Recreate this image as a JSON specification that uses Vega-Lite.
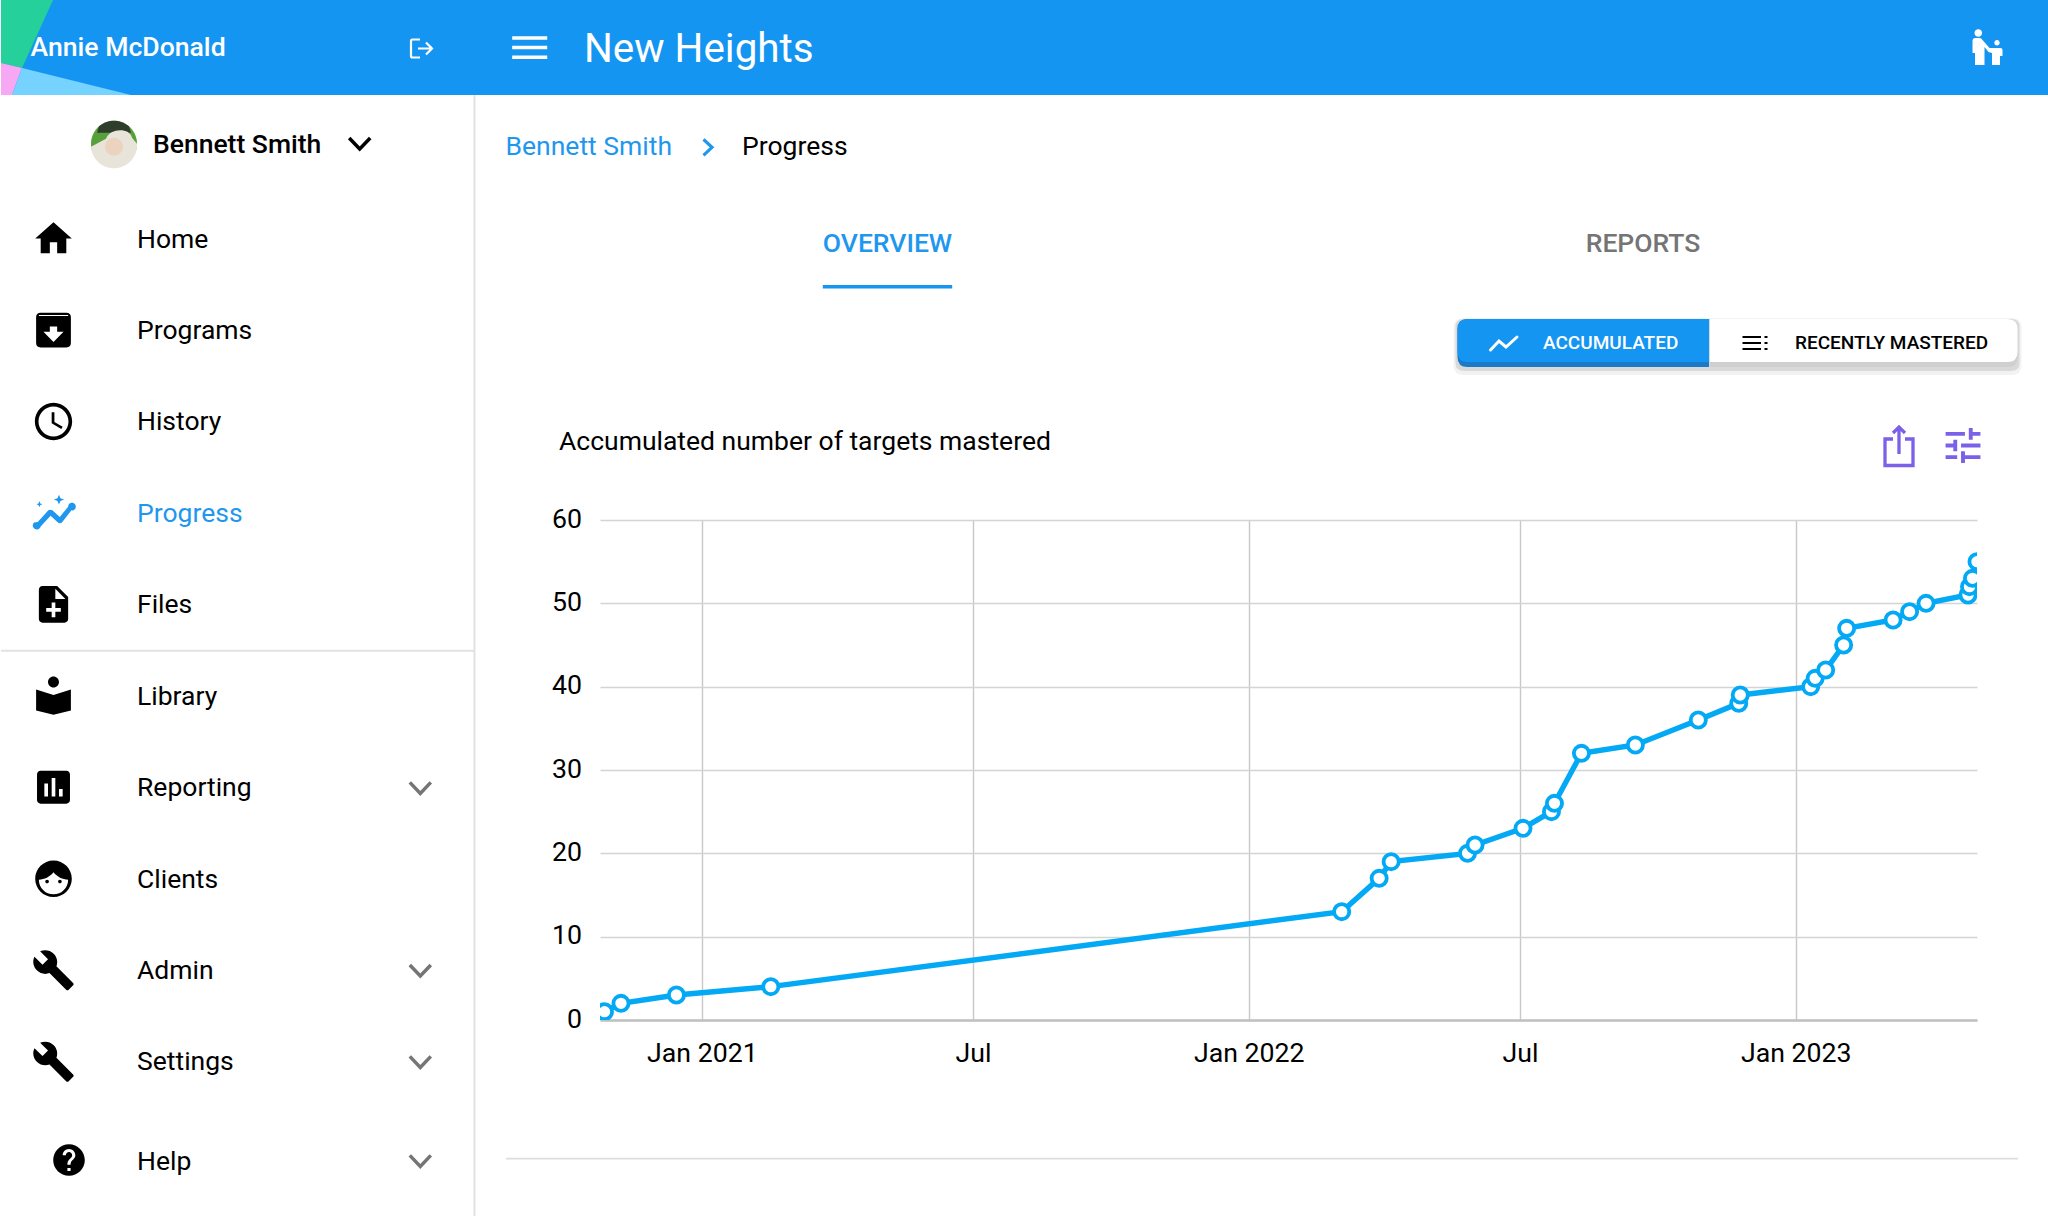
{
  "$schema": "https://vega.github.io/schema/vega-lite/v6.json",
  "padding": 0,
  "background": "#ffffff",
  "bounds": "flush",
  "spacing": 0,
  "config": {
    "font": "Roboto",
    "view": {"stroke": null},
    "text": {"font": "Roboto", "baseline": "alphabetic", "align": "left", "fontSize": 26.5, "color": "#000000"}
  },
  "datasets": {
    "menu": [
      {"label": "Home"}, {"label": "Programs"}, {"label": "History"}, {"label": "Progress"}, {"label": "Files"},
      {"label": "Library"}, {"label": "Reporting"}, {"label": "Clients"}, {"label": "Admin"}, {"label": "Settings"}
    ],
    "mastered": [
      {"date": "2020-10-28T00:00:00Z", "targets": 1},
      {"date": "2020-11-08T00:00:00Z", "targets": 2},
      {"date": "2020-12-15T00:00:00Z", "targets": 3},
      {"date": "2021-02-16T00:00:00Z", "targets": 4},
      {"date": "2022-03-04T00:00:00Z", "targets": 13},
      {"date": "2022-03-29T00:00:00Z", "targets": 17},
      {"date": "2022-04-06T00:00:00Z", "targets": 19},
      {"date": "2022-05-27T00:00:00Z", "targets": 20},
      {"date": "2022-06-01T00:00:00Z", "targets": 21},
      {"date": "2022-07-03T00:00:00Z", "targets": 23},
      {"date": "2022-07-22T00:00:00Z", "targets": 25},
      {"date": "2022-07-24T00:00:00Z", "targets": 26},
      {"date": "2022-08-11T00:00:00Z", "targets": 32},
      {"date": "2022-09-16T00:00:00Z", "targets": 33},
      {"date": "2022-10-28T00:00:00Z", "targets": 36},
      {"date": "2022-11-24T00:00:00Z", "targets": 38},
      {"date": "2022-11-25T00:00:00Z", "targets": 39},
      {"date": "2023-01-11T00:00:00Z", "targets": 40},
      {"date": "2023-01-14T00:00:00Z", "targets": 41},
      {"date": "2023-01-21T00:00:00Z", "targets": 42},
      {"date": "2023-02-02T00:00:00Z", "targets": 45},
      {"date": "2023-02-04T00:00:00Z", "targets": 47},
      {"date": "2023-03-07T00:00:00Z", "targets": 48},
      {"date": "2023-03-18T00:00:00Z", "targets": 49},
      {"date": "2023-03-29T00:00:00Z", "targets": 50},
      {"date": "2023-04-26T00:00:00Z", "targets": 51},
      {"date": "2023-04-27T00:00:00Z", "targets": 52},
      {"date": "2023-04-29T00:00:00Z", "targets": 53},
      {"date": "2023-05-02T00:00:00Z", "targets": 55}
    ]
  },
  "vconcat": [
    {
      "width": 2048,
      "height": 95,
      "view": {"fill": "#1595f2", "stroke": null},
      "resolve": {"scale": {"x": "independent", "y": "independent"}},
      "data": {"values": [{"part": "header"}]},
      "layer": [
        {"mark": {"type": "point", "filled": true, "opacity": 1, "size": 4, "color": "#25d09a", "shape": "M0 0H52L21 68L0 63Z"},
         "encoding": {"x": {"datum": "corner", "type": "nominal", "scale": {"type": "point", "padding": 0, "range": [0, 0]}, "axis": null}, "y": {"datum": "corner", "type": "nominal", "scale": {"type": "point", "padding": 0, "range": [0, 0]}, "axis": null}}},
        {"mark": {"type": "point", "filled": true, "opacity": 1, "size": 4, "color": "#f7a8f5", "shape": "M0 63L21 68L11 95H0Z"},
         "encoding": {"x": {"datum": "corner", "type": "nominal", "scale": {"type": "point", "padding": 0, "range": [0, 0]}, "axis": null}, "y": {"datum": "corner", "type": "nominal", "scale": {"type": "point", "padding": 0, "range": [0, 0]}, "axis": null}}},
        {"mark": {"type": "point", "filled": true, "opacity": 1, "size": 4, "color": "#76d3ff", "shape": "M21 68L130 95H11Z"},
         "encoding": {"x": {"datum": "corner", "type": "nominal", "scale": {"type": "point", "padding": 0, "range": [0, 0]}, "axis": null}, "y": {"datum": "corner", "type": "nominal", "scale": {"type": "point", "padding": 0, "range": [0, 0]}, "axis": null}}},
        {"mark": {"type": "text", "color": "#ffffff", "fontWeight": 500, "fontSize": 26.6},
         "encoding": {"text": {"datum": "Annie McDonald"}, "x": {"datum": "user", "type": "nominal", "scale": {"type": "point", "padding": 0, "range": [29.5, 29.5]}, "axis": null}, "y": {"datum": "user", "type": "nominal", "scale": {"type": "point", "padding": 0, "range": [56, 56]}, "axis": null}}},
        {"mark": {"type": "point", "filled": false, "opacity": 1, "size": 4, "stroke": "#ffffff", "strokeWidth": 2.2, "shape": "M-2 -9H-9.5Q-11 -9 -11 -7.5V7.5Q-11 9 -9.5 9H-2M-4 0H9M4 -6L10 0L4 6"},
         "encoding": {"x": {"datum": "logout", "type": "nominal", "scale": {"type": "point", "padding": 0, "range": [421, 421]}, "axis": null}, "y": {"datum": "logout", "type": "nominal", "scale": {"type": "point", "padding": 0, "range": [48.5, 48.5]}, "axis": null}}},
        {"mark": {"type": "point", "filled": true, "opacity": 1, "size": 4, "color": "#ffffff", "shape": "M-17.5 -11.2H17.5V-7.7H-17.5ZM-17.5 -1.8H17.5V1.7H-17.5ZM-17.5 8H17.5V11.5H-17.5Z"},
         "encoding": {"x": {"datum": "menu", "type": "nominal", "scale": {"type": "point", "padding": 0, "range": [528.7, 528.7]}, "axis": null}, "y": {"datum": "menu", "type": "nominal", "scale": {"type": "point", "padding": 0, "range": [47.5, 47.5]}, "axis": null}}},
        {"mark": {"type": "text", "color": "#ffffff", "fontSize": 40.4},
         "encoding": {"text": {"datum": "New Heights"}, "x": {"datum": "app", "type": "nominal", "scale": {"type": "point", "padding": 0, "range": [583, 583]}, "axis": null}, "y": {"datum": "app", "type": "nominal", "scale": {"type": "point", "padding": 0, "range": [61.7, 61.7]}, "axis": null}}},
        {"mark": {"type": "point", "filled": true, "opacity": 1, "size": 4, "color": "#ffffff", "shape": "M-15 -6Q-15 -9 -12 -9H-8Q-6 -9 -5 -7L2 1H13Q15 1 15 3V9H12.5V18H4.5V6L1 5L-3 0V18H-12.5V6H-15ZM-13 -14A3.8 3.8 0 1 1 -5.4 -14A3.8 3.8 0 1 1 -13 -14ZM6.8 -4.3A2.7 2.7 0 1 1 12.2 -4.3A2.7 2.7 0 1 1 6.8 -4.3Z"},
         "encoding": {"x": {"datum": "family", "type": "nominal", "scale": {"type": "point", "padding": 0, "range": [1986.5, 1986.5]}, "axis": null}, "y": {"datum": "family", "type": "nominal", "scale": {"type": "point", "padding": 0, "range": [47, 47]}, "axis": null}}}
      ]
    },
    {
      "bounds": "flush",
      "spacing": 0,
      "hconcat": [
        {
          "width": 474,
          "height": 1121,
          "resolve": {"scale": {"x": "independent", "y": "independent"}},
          "layer": [
            {"data": {"values": [{"part": "border"}]}, "mark": {"type": "rule", "color": "#e2e2e2", "strokeWidth": 2},
             "encoding": {"x": {"datum": "border", "type": "nominal", "scale": {"type": "point", "padding": 0, "range": [473.5, 473.5]}, "axis": null}}},
            {"data": {"values": [{"part": "divider"}]}, "mark": {"type": "rule", "color": "#e2e2e2", "strokeWidth": 2},
             "encoding": {"y": {"datum": "divider", "type": "nominal", "scale": {"type": "point", "padding": 0, "range": [555.7, 555.7]}, "axis": null}}},
            {"data": {"values": [{"part": "avatar"}]},
             "encoding": {"x": {"datum": "avatar", "type": "nominal", "scale": {"type": "point", "padding": 0, "range": [113, 113]}, "axis": null}, "y": {"datum": "avatar", "type": "nominal", "scale": {"type": "point", "padding": 0, "range": [48.7, 48.7]}, "axis": null}},
             "layer": [
               {"mark": {"type": "point", "filled": true, "opacity": 1, "size": 4, "color": "#58a03c", "shape": "M-23 0A23 23 0 1 1 23 0A23 23 0 1 1 -23 0Z"}},
               {"mark": {"type": "point", "filled": true, "opacity": 1, "size": 4, "color": "#2f3d2c", "shape": "M-15 -17.5A23 23 0 0 1 15 -17.5L17 -11L-17 -11Z"}},
               {"mark": {"type": "point", "filled": true, "opacity": 1, "size": 4, "color": "#e9e4da", "shape": "M-23 3L-8 -5C-4 -16 16 -16 18 -6L23 0A23 23 0 0 1 -23 3Z"}},
               {"mark": {"type": "point", "filled": true, "opacity": 1, "size": 4, "color": "#ecd3c0", "shape": "M-9 3A9 9 0 1 1 9 3A9 9 0 1 1 -9 3Z"}}
             ]},
            {"mark": {"type": "text", "fontWeight": 500},
             "data": {"values": [{"label": "Bennett Smith"}]},
             "encoding": {"text": {"field": "label"}, "x": {"field": "label", "type": "nominal", "scale": {"type": "point", "padding": 0, "range": [152, 152]}, "axis": null}, "y": {"field": "label", "type": "nominal", "scale": {"type": "point", "padding": 0, "range": [57.7, 57.7]}, "axis": null}}},
            {"data": {"values": [{"part": "client menu"}]}, "mark": {"type": "point", "filled": false, "opacity": 1, "size": 4, "stroke": "#000000", "strokeWidth": 3.5, "shape": "M-10.5 -6L0 5L10.5 -6"},
             "encoding": {"x": {"datum": "toggle", "type": "nominal", "scale": {"type": "point", "padding": 0, "range": [358.7, 358.7]}, "axis": null}, "y": {"datum": "toggle", "type": "nominal", "scale": {"type": "point", "padding": 0, "range": [49, 49]}, "axis": null}}},
            {"data": {"name": "menu"}, "mark": {"type": "text"},
             "encoding": {
               "text": {"field": "label"},
               "color": {"condition": {"test": "datum.label === 'Progress'", "value": "#1f97ee"}, "value": "#000000"},
               "x": {"datum": "labels", "type": "nominal", "scale": {"type": "point", "padding": 0, "range": [136, 136]}, "axis": null},
               "y": {"field": "label", "type": "nominal", "sort": null, "scale": {"type": "point", "padding": 0, "range": [152.6, 975.4]}, "axis": null}}},
            {"data": {"name": "menu"}, "mark": {"type": "point", "filled": true, "opacity": 1, "size": 13.4},
             "encoding": {
               "color": {"condition": {"test": "datum.label === 'Progress'", "value": "#1f97ee"}, "value": "#000000"},
               "shape": {"field": "label", "type": "nominal", "legend": null, "sort": null, "scale": {
                 "domain": ["Home", "Programs", "History", "Progress", "Files", "Library", "Reporting", "Clients", "Admin", "Settings"],
                 "range": [
                   "M-2 8V2H2V8H7V0H10L0 -9L-10 0H-7V8Z",
                   "M-9.5 -7Q-9.5 -9.5 -7 -9.5H7Q9.5 -9.5 9.5 -7V7Q9.5 9.5 7 9.5H-7Q-9.5 9.5 -9.5 7ZM-5.5 1L0 6.5L5.5 1H2V-2H-2V1ZM-8 -8.2V-7.7H8V-8.2Z",
                   "M0 -10.2C-5.6 -10.2 -10.2 -5.6 -10.2 0C-10.2 5.6 -5.6 10.2 0 10.2C5.6 10.2 10.2 5.6 10.2 0C10.2 -5.6 5.6 -10.2 0 -10.2ZM0 8.2C-4.5 8.2 -8.2 4.5 -8.2 0C-8.2 -4.5 -4.5 -8.2 0 -8.2C4.5 -8.2 8.2 -4.5 8.2 0C8.2 4.5 4.5 8.2 0 8.2ZM0.5 -5H-1V1L4.25 4.15L5 2.92L0.5 0.25Z",
                   "M-10.6 5.2L-8.6 4.9L-2.8 -1.4A1.9 1.9 0 0 1 -0.6 -1.4L3.4 2.2L8 -3.4A2.1 2.1 0 1 1 9.8 -1.4L4.6 5.2A1.8 1.8 0 0 1 2.4 5.2L-1.6 1.6L-7 7.4A2.2 2.2 0 1 1 -10.6 5.2ZM3 -10L3.8 -8L5.8 -7.3L3.8 -6.5L3 -4.6L2.2 -6.5L0.2 -7.3L2.2 -8ZM-7.7 -6.5L-7.2 -5.2L-6 -4.8L-7.2 -4.3L-7.7 -3.1L-8.2 -4.3L-9.4 -4.8L-8.2 -5.2Z",
                   "M2 -10H-6C-7.1 -10 -7.99 -9.1 -7.99 -8L-8 8C-8 9.1 -7.11 10 -6.01 10H6C7.1 10 8 9.1 8 8V-4ZM4 4H1V7H-1V4H-4V2H-1V-1H1V2H4ZM1 -3V-8.5L6.5 -3Z",
                   "M-9.5 -3.5L0 -0.5L9.5 -3.5V8L0 10.4L-9.5 8ZM-3 -7.5A3 3 0 1 1 3 -7.5A3 3 0 1 1 -3 -7.5Z",
                   "M7 -9H-7C-8.1 -9 -9 -8.1 -9 -7V7C-9 8.1 -8.1 9 -7 9H7C8.1 9 9 8.1 9 7V-7C9 -8.1 8.1 -9 7 -9ZM-3 5H-5V-2H-3ZM1 5H-1V-5H1ZM5 5H3V1H5Z",
                   "M-10 0A10 10 0 1 1 10 0A10 10 0 1 1 -10 0ZM-8 0.5A8 8 0 0 0 8 0.5C5 0.5 2 -1 0 -3.5C-2 -1 -5 0.5 -8 0.5ZM-4.5 1.5A1 1 0 1 1 -2.5 1.5A1 1 0 1 1 -4.5 1.5ZM2.5 1.5A1 1 0 1 1 4.5 1.5A1 1 0 1 1 2.5 1.5Z",
                   "M10.7 7L1.6 -2.1C2.5 -4.4 2 -7.1 0.1 -9C-1.9 -11 -4.9 -11.4 -7.3 -10.3L-3 -6L-6 -3L-10.4 -7.3C-11.6 -4.9 -11.1 -1.9 -9.1 0.1C-7.2 2 -4.5 2.5 -2.2 1.6L6.9 10.7C7.3 11.1 7.9 11.1 8.3 10.7L10.6 8.4C11.1 8 11.1 7.3 10.7 7Z",
                   "M10.7 7L1.6 -2.1C2.5 -4.4 2 -7.1 0.1 -9C-1.9 -11 -4.9 -11.4 -7.3 -10.3L-3 -6L-6 -3L-10.4 -7.3C-11.6 -4.9 -11.1 -1.9 -9.1 0.1C-7.2 2 -4.5 2.5 -2.2 1.6L6.9 10.7C7.3 11.1 7.9 11.1 8.3 10.7L10.6 8.4C11.1 8 11.1 7.3 10.7 7Z"
                 ]}},
               "x": {"datum": "icons", "type": "nominal", "scale": {"type": "point", "padding": 0, "range": [52.5, 52.5]}, "axis": null},
               "y": {"field": "label", "type": "nominal", "sort": null, "scale": {"type": "point", "padding": 0, "range": [143.6, 966.6]}, "axis": null}}},
            {"data": {"values": [{"label": "Reporting"}, {"label": "Admin"}, {"label": "Settings"}]},
             "mark": {"type": "point", "filled": false, "opacity": 1, "size": 4, "stroke": "#757575", "strokeWidth": 3.5, "shape": "M-10.5 -6L0 5L10.5 -6"},
             "encoding": {
               "x": {"datum": "chevrons", "type": "nominal", "scale": {"type": "point", "padding": 0, "range": [419.3, 419.3]}, "axis": null},
               "y": {"field": "label", "type": "nominal", "scale": {"type": "point", "padding": 0, "domain": ["Home", "Programs", "History", "Progress", "Files", "Library", "Reporting", "Clients", "Admin", "Settings"], "range": [145.3, 967.4]}, "axis": null}}},
            {"data": {"values": [{"label": "Help"}]}, "mark": {"type": "text"},
             "encoding": {"text": {"field": "label"}, "x": {"field": "label", "type": "nominal", "scale": {"type": "point", "padding": 0, "range": [136, 136]}, "axis": null}, "y": {"field": "label", "type": "nominal", "scale": {"type": "point", "padding": 0, "range": [1074.6, 1074.6]}, "axis": null}}},
            {"data": {"values": [{"label": "Help"}]},
             "mark": {"type": "point", "filled": true, "opacity": 1, "size": 10, "color": "#000000", "shape": "M0 -10C-5.52 -10 -10 -5.52 -10 0C-10 5.52 -5.52 10 0 10C5.52 10 10 5.52 10 0C10 -5.52 5.52 -10 0 -10ZM1 7H-1V5H1ZM3.07 -0.75L2.17 0.17C1.45 0.9 1 1.5 1 3H-1V2.5C-1 1.4 -0.55 0.4 0.17 -0.33L1.41 -1.59C1.78 -1.95 2 -2.45 2 -3C2 -4.1 1.1 -5 0 -5C-1.1 -5 -2 -4.1 -2 -3H-4C-4 -5.21 -2.21 -7 0 -7C2.21 -7 4 -5.21 4 -3C4 -2.12 3.64 -1.32 3.07 -0.75Z"},
             "encoding": {"x": {"field": "label", "type": "nominal", "scale": {"type": "point", "padding": 0, "range": [68, 68]}, "axis": null}, "y": {"field": "label", "type": "nominal", "scale": {"type": "point", "padding": 0, "range": [1065, 1065]}, "axis": null}}},
            {"data": {"values": [{"label": "Help"}]},
             "mark": {"type": "point", "filled": false, "opacity": 1, "size": 4, "stroke": "#757575", "strokeWidth": 3.5, "shape": "M-10.5 -6L0 5L10.5 -6"},
             "encoding": {"x": {"field": "label", "type": "nominal", "scale": {"type": "point", "padding": 0, "range": [419.3, 419.3]}, "axis": null}, "y": {"field": "label", "type": "nominal", "scale": {"type": "point", "padding": 0, "range": [1066.4, 1066.4]}, "axis": null}}}
          ]
        },
        {
          "bounds": "flush",
          "spacing": 0,
          "vconcat": [
            {
              "width": 1574,
              "height": 424.5,
              "resolve": {"scale": {"x": "independent", "y": "independent"}},
              "data": {"values": [{"part": "top"}]},
              "layer": [
                {"mark": {"type": "text", "color": "#1f97ee"},
                 "encoding": {"text": {"datum": "Bennett Smith"}, "x": {"datum": "crumb", "type": "nominal", "scale": {"type": "point", "padding": 0, "range": [30.5, 30.5]}, "axis": null}, "y": {"datum": "crumb", "type": "nominal", "scale": {"type": "point", "padding": 0, "range": [60, 60]}, "axis": null}}},
                {"mark": {"type": "point", "filled": false, "opacity": 1, "size": 4, "stroke": "#1f97ee", "strokeWidth": 3.2, "shape": "M-4.5 -8L4 0L-4.5 8"},
                 "encoding": {"x": {"datum": "sep", "type": "nominal", "scale": {"type": "point", "padding": 0, "range": [233, 233]}, "axis": null}, "y": {"datum": "sep", "type": "nominal", "scale": {"type": "point", "padding": 0, "range": [52.3, 52.3]}, "axis": null}}},
                {"mark": {"type": "text"},
                 "encoding": {"text": {"datum": "Progress"}, "x": {"datum": "crumb", "type": "nominal", "scale": {"type": "point", "padding": 0, "range": [267, 267]}, "axis": null}, "y": {"datum": "crumb", "type": "nominal", "scale": {"type": "point", "padding": 0, "range": [60, 60]}, "axis": null}}},
                {"mark": {"type": "text", "align": "center", "fontWeight": 500, "color": "#1f97ee"},
                 "encoding": {"text": {"datum": "OVERVIEW"}, "x": {"datum": "tab", "type": "nominal", "scale": {"type": "point", "padding": 0, "range": [412.5, 412.5]}, "axis": null}, "y": {"datum": "tab", "type": "nominal", "scale": {"type": "point", "padding": 0, "range": [156.5, 156.5]}, "axis": null}}},
                {"mark": {"type": "text", "align": "center", "fontWeight": 500, "color": "#757575"},
                 "encoding": {"text": {"datum": "REPORTS"}, "x": {"datum": "tab", "type": "nominal", "scale": {"type": "point", "padding": 0, "range": [1168, 1168]}, "axis": null}, "y": {"datum": "tab", "type": "nominal", "scale": {"type": "point", "padding": 0, "range": [156.5, 156.5]}, "axis": null}}},
                {"mark": {"type": "point", "filled": true, "opacity": 1, "size": 4, "color": "#1595f2", "shape": "M-64.7 -1.8H64.7V1.8H-64.7Z"},
                 "encoding": {"x": {"datum": "tab", "type": "nominal", "scale": {"type": "point", "padding": 0, "range": [412.5, 412.5]}, "axis": null}, "y": {"datum": "tab", "type": "nominal", "scale": {"type": "point", "padding": 0, "range": [191.8, 191.8]}, "axis": null}}},
                {"encoding": {"x": {"datum": "switch", "type": "nominal", "scale": {"type": "point", "padding": 0, "range": [1263.5, 1263.5]}, "axis": null}, "y": {"datum": "switch", "type": "nominal", "scale": {"type": "point", "padding": 0, "range": [248, 248]}, "axis": null}},
                 "layer": [
                   {"mark": {"type": "point", "filled": true, "opacity": 0.05, "size": 4, "color": "#000000", "shape": "M-275 -25H273Q283 -25 283 -15V22Q283 32 273 32H-275Q-285 32 -285 22V-15Q-285 -25 -275 -25Z"}},
                   {"mark": {"type": "point", "filled": true, "opacity": 0.1, "size": 4, "color": "#000000", "shape": "M-275 -24H273Q281 -24 281 -16V20Q281 28 272 28H-274Q-283 28 -283 20V-16Q-283 -24 -275 -24Z"}},
                   {"mark": {"type": "point", "filled": true, "opacity": 1, "size": 4, "color": "#cfcfcf", "shape": "M-28.5 -24H269Q279 -24 279 -14V14Q279 24 269 24H-28.5Z"}},
                   {"mark": {"type": "point", "filled": true, "opacity": 1, "size": 4, "color": "#ffffff", "shape": "M-28.5 -24H269Q279 -24 279 -14V9Q279 19 269 19H-28.5Z"}},
                   {"mark": {"type": "point", "filled": true, "opacity": 1, "size": 4, "color": "#1a7ac8", "shape": "M-271 -24H-29.5V24H-271Q-281 24 -281 14V-14Q-281 -24 -271 -24Z"}},
                   {"mark": {"type": "point", "filled": true, "opacity": 1, "size": 4, "color": "#1595f2", "shape": "M-271 -24H-29.5V19H-271Q-281 19 -281 9V-14Q-281 -24 -271 -24Z"}}
                 ]},
                {"mark": {"type": "text", "fontSize": 19, "fontWeight": 500, "color": "#ffffff"},
                 "encoding": {"text": {"datum": "ACCUMULATED"}, "x": {"datum": "switch", "type": "nominal", "scale": {"type": "point", "padding": 0, "range": [1068, 1068]}, "axis": null}, "y": {"datum": "switch", "type": "nominal", "scale": {"type": "point", "padding": 0, "range": [254, 254]}, "axis": null}}},
                {"mark": {"type": "text", "fontSize": 19, "fontWeight": 500},
                 "encoding": {"text": {"datum": "RECENTLY MASTERED"}, "x": {"datum": "switch", "type": "nominal", "scale": {"type": "point", "padding": 0, "range": [1320, 1320]}, "axis": null}, "y": {"datum": "switch", "type": "nominal", "scale": {"type": "point", "padding": 0, "range": [254, 254]}, "axis": null}}},
                {"mark": {"type": "point", "filled": false, "opacity": 1, "size": 4, "stroke": "#ffffff", "strokeWidth": 3, "strokeCap": "round", "shape": "M-13.5 7L-5 -2L2 4L13 -6"},
                 "encoding": {"x": {"datum": "switch", "type": "nominal", "scale": {"type": "point", "padding": 0, "range": [1029, 1029]}, "axis": null}, "y": {"datum": "switch", "type": "nominal", "scale": {"type": "point", "padding": 0, "range": [248, 248]}, "axis": null}}},
                {"mark": {"type": "point", "filled": true, "opacity": 1, "size": 4, "color": "#000000", "shape": "M-12.5 -7H6V-5H-12.5ZM-12.5 -1H6V1H-12.5ZM-12.5 5H6V7H-12.5ZM9.5 -7H12.5V-5H9.5ZM9.5 -1H12.5V1H9.5ZM9.5 5H12.5V7H9.5Z"},
                 "encoding": {"x": {"datum": "switch", "type": "nominal", "scale": {"type": "point", "padding": 0, "range": [1280, 1280]}, "axis": null}, "y": {"datum": "switch", "type": "nominal", "scale": {"type": "point", "padding": 0, "range": [248, 248]}, "axis": null}}},
                {"mark": {"type": "text"},
                 "encoding": {"text": {"datum": "Accumulated number of targets mastered"}, "x": {"datum": "title", "type": "nominal", "scale": {"type": "point", "padding": 0, "range": [84, 84]}, "axis": null}, "y": {"datum": "title", "type": "nominal", "scale": {"type": "point", "padding": 0, "range": [354.5, 354.5]}, "axis": null}}},
                {"mark": {"type": "point", "filled": false, "opacity": 1, "size": 4, "stroke": "#7b61e8", "strokeWidth": 3.3, "shape": "M-6 -7H-14V19.5H14V-7H6M0 8V-18M-6 -13L0 -19L6 -13"},
                 "encoding": {"x": {"datum": "share", "type": "nominal", "scale": {"type": "point", "padding": 0, "range": [1424, 1424]}, "axis": null}, "y": {"datum": "share", "type": "nominal", "scale": {"type": "point", "padding": 0, "range": [351, 351]}, "axis": null}}},
                {"mark": {"type": "point", "filled": true, "opacity": 1, "size": 15, "color": "#7b61e8", "shape": "M-9 5V7H-3V5ZM-9 -7V-5H1V-7ZM1 9V7H9V5H1V3H-1V9ZM-5 -3V-1H-9V1H-5V3H-3V-3ZM9 1V-1H-1V1ZM3 -3H5V-5H9V-7H5V-9H3Z"},
                 "encoding": {"x": {"datum": "tune", "type": "nominal", "scale": {"type": "point", "padding": 0, "range": [1488, 1488]}, "axis": null}, "y": {"datum": "tune", "type": "nominal", "scale": {"type": "point", "padding": 0, "range": [350.5, 350.5]}, "axis": null}}},
                {"mark": {"type": "point", "filled": true, "opacity": 1, "size": 4, "color": "#dddddd", "shape": "M-756 -0.8H756V0.8H-756Z"},
                 "encoding": {"x": {"datum": "footer", "type": "nominal", "scale": {"type": "point", "padding": 0, "range": [787, 787]}, "axis": null}, "y": {"datum": "footer", "type": "nominal", "scale": {"type": "point", "padding": 0, "range": [1063.6, 1063.6]}, "axis": null}}}
              ]
            },
            {
              "bounds": "flush",
              "spacing": 0,
              "hconcat": [
                {
                  "width": 125,
                  "height": 500,
                  "data": {"values": [{"part": "gutter"}]},
                  "mark": {"type": "point", "opacity": 0}
                },
                {
                  "width": 1377,
                  "height": 500,
                  "data": {"name": "mastered"},
                  "encoding": {
                    "x": {
                      "field": "date",
                      "type": "temporal",
                      "title": null,
                      "scale": {"type": "utc", "domain": [{"year": 2020, "month": 10, "date": 25, "utc": true}, {"year": 2023, "month": 5, "date": 2, "utc": true}]},
                      "axis": {
                        "values": [
                          {"year": 2021, "month": 1, "date": 1, "utc": true},
                          {"year": 2021, "month": 7, "date": 1, "utc": true},
                          {"year": 2022, "month": 1, "date": 1, "utc": true},
                          {"year": 2022, "month": 7, "date": 1, "utc": true},
                          {"year": 2023, "month": 1, "date": 1, "utc": true}
                        ],
                        "labelExpr": "utcmonth(datum.value) === 0 ? utcFormat(datum.value, '%b %Y') : utcFormat(datum.value, '%b')",
                        "labelFontSize": 26.7,
                        "labelColor": "#000000",
                        "labelPadding": 20,
                        "labelFlush": false,
                        "labelOverlap": false,
                        "ticks": false,
                        "grid": true,
                        "gridColor": "#c8c8c8",
                        "gridWidth": 1.4,
                        "domainColor": "#c0c0c0",
                        "domainWidth": 2.4
                      }
                    },
                    "y": {
                      "field": "targets",
                      "type": "quantitative",
                      "title": null,
                      "scale": {"domain": [0, 60], "nice": false},
                      "axis": {
                        "values": [0, 10, 20, 30, 40, 50, 60],
                        "labelFontSize": 26.7,
                        "labelColor": "#000000",
                        "labelPadding": 18.5,
                        "labelOffset": -1,
                        "ticks": false,
                        "domain": false,
                        "grid": true,
                        "gridColor": "#d4d4d4",
                        "gridWidth": 1.6
                      }
                    }
                  },
                  "layer": [
                    {"mark": {"type": "line", "color": "#03a9f4", "strokeWidth": 5.4, "clip": true}},
                    {"mark": {"type": "point", "shape": "circle", "filled": true, "fill": "#ffffff", "stroke": "#03a9f4", "strokeWidth": 3.8, "size": 230, "opacity": 1, "clip": true}}
                  ]
                }
              ]
            }
          ]
        }
      ]
    }
  ]
}
